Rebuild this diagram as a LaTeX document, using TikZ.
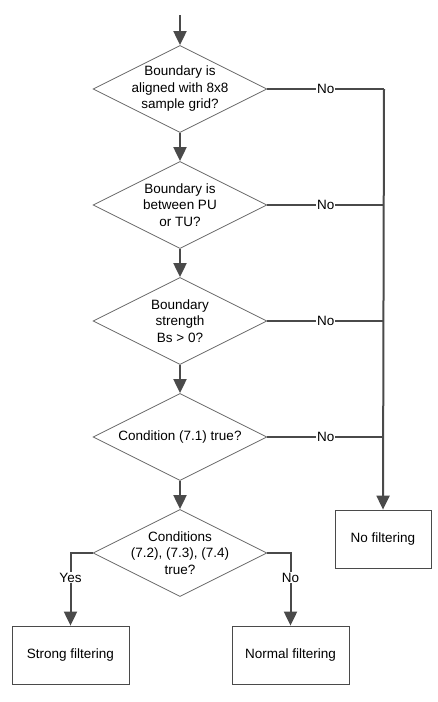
\documentclass[tikz,border=0pt]{standalone}
\usepackage{fontspec}
\setmainfont{Liberation Sans}
\usetikzlibrary{arrows.meta,shapes.geometric}
\definecolor{linegray}{HTML}{4A4A4A}

\begin{document}
\begin{tikzpicture}[x=1pt,y=-1pt,
    every node/.style={font=\fontsize{13.5}{16.5}\selectfont},
    decision/.style={diamond,draw=linegray!85,line width=0.8pt,minimum width=174pt,minimum height=87pt,inner sep=0pt},
    txt/.style={align=center,inner sep=0pt},
    result/.style={rectangle,draw=linegray,line width=0.8pt,minimum height=58pt},
    flow/.style={draw=linegray,line width=2pt},
    arrow/.style={flow,-{Triangle[length=14pt,width=13pt]}},
    lbl/.style={fill=white,inner sep=1pt}]
    \useasboundingbox (0,0) rectangle (438,702);

    \coordinate (start) at (180,15);
    \node[decision] (d1) at (180,89) {};
    \node[decision] (d2) at (180,205) {};
    \node[decision] (d3) at (180,321) {};
    \node[decision] (d4) at (180,437) {};
    \node[decision] (d5) at (180,553) {};
    \node[txt] (t1) at (d1) {Boundary is\\aligned with 8x8\\sample grid?};
    \node[txt] (t2) at (d2) {Boundary is\\between PU\\or TU?};
    \node[txt] (t3) at (d3) {Boundary\\strength\\Bs > 0?};
    \node[txt] (t4) at (d4) {Condition (7.1) true?};
    \node[txt] (t5) at (d5) {Conditions\\(7.2), (7.3), (7.4)\\true?};

    \node[result,minimum width=96pt] (nofilt) at (383,539) {No filtering};
    \node[result,minimum width=117pt] (strong) at (70.5,655) {Strong filtering};
    \node[result,minimum width=117pt] (normal) at (290.5,655) {Normal filtering};

    \foreach \i/\y in {1/89, 2/205, 3/321, 4/437}
      \coordinate (j\i) at (384,\y);

    % main line
    \draw[arrow] (start) -- (d1.north);
    \foreach \from/\to in {d1/d2, d2/d3, d3/d4, d4/d5}
      \draw[arrow] (\from.south) -- (\to.north);

    % no branches
    \foreach \i in {1,...,4}
      \draw[flow] (d\i.east) -- node[lbl] (no\i) {No} (j\i);
    \draw[arrow] (j1) -- (nofilt.north);

    \draw[arrow] (d5.west) -| node[lbl,pos=0.67] (yes) {Yes} (strong.north);
    \draw[arrow] (d5.east) -| node[lbl,pos=0.67] (no5) {No} (normal.north);
\end{tikzpicture}
\end{document}
